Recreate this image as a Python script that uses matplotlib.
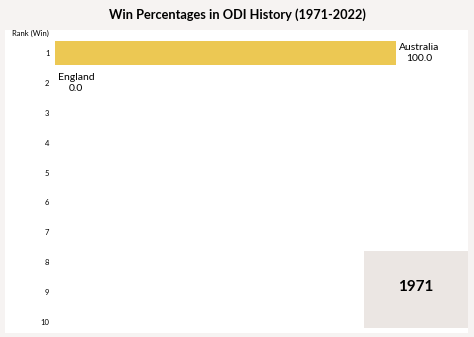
import matplotlib.pyplot as plt
from matplotlib.patches import Rectangle

teams = ['Australia', 'England']
ranks = [1, 2]
win_pct = [100.0, 0.0]
bar_colors = ['#ecc853', '#d9d4d4']
rank_ticks = list(range(1, 11))
year = '1971'
title = 'Win Percentages in ODI History (1971-2022)'

W, H = 474, 337
plt.rcParams['font.family'] = ['Lato', 'DejaVu Sans']
fig = plt.figure(figsize=(W / 100, H / 100), dpi=100, facecolor='#f6f3f2')

# white panel behind the chart
bg = fig.add_axes([5 / W, 4 / H, 463 / W, 303 / H], zorder=0)
bg.set_facecolor('white')
bg.set_xticks([])
bg.set_yticks([])
for s in bg.spines.values():
    s.set_visible(False)

ax = fig.add_axes([55 / W, 4 / H, 413 / W, 303 / H], zorder=1)
ax.set_facecolor('none')
ax.barh(ranks, win_pct, height=0.78, color=bar_colors, edgecolor='none')
ax.set_xlim(0, 121.1)
ax.set_ylim(10.37, 0.231)
ax.set_yticks(rank_ticks)
ax.set_yticklabels([str(r) for r in rank_ticks], fontsize=5.5)
ax.tick_params(axis='y', length=0, pad=4)
ax.set_xticks([])
for s in ax.spines.values():
    s.set_visible(False)

for team, r, v in zip(teams, ranks, win_pct):
    ax.text(v + 0.8, r, f'{team}\n{v:.1f}', ha='left', va='center',
            fontsize=7.5, multialignment='center', linespacing=1.35)

fig.text(30 / W, 1 - 33 / H, 'Rank (Win)', fontsize=5.5, ha='center', va='center')
fig.text(0.5, 1 - 15 / H, title, fontsize=9.2, fontweight='bold',
         ha='center', va='center')

# year box
ax.add_patch(Rectangle((90.6, 7.63), 30.5, 2.57, facecolor='#ebe6e3',
                       edgecolor='none', zorder=1))
ax.text(105.9, 8.83, year, fontsize=11, fontweight='bold',
        ha='center', va='center', zorder=2)

fig.savefig('out.png', dpi=100, facecolor=fig.get_facecolor())
